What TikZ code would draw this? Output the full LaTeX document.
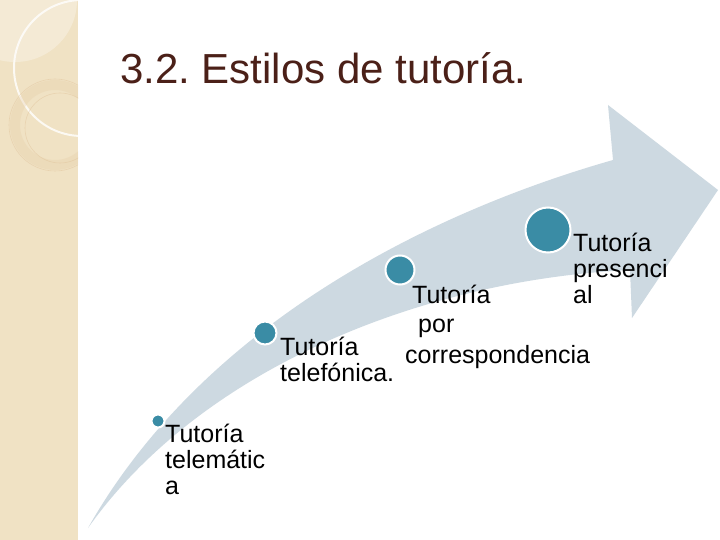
\documentclass[tikz,border=0pt]{standalone}
\usepackage{fontspec}
\setmainfont{Liberation Sans}
\definecolor{beige}{RGB}{240,226,196}
\definecolor{band}{RGB}{205,217,225}
\definecolor{dot}{RGB}{58,140,165}
\definecolor{titlec}{RGB}{75,32,24}
\tikzset{lbl/.style={anchor=north west,inner sep=0,font=\fontsize{25}{26}\selectfont,align=left},
 dotc/.style={circle,fill=dot,draw=white,line width=2pt,inner sep=0}}
\begin{document}
\frenchspacing
\begin{tikzpicture}[x=1pt,y=-1pt]
\useasboundingbox (0,0) rectangle (720,540);
\fill[white] (0,0) rectangle (720,540);
\begin{scope}
\clip (0,0) rectangle (78,540);
\fill[beige] (0,0) rectangle (78,540);
\fill[white,opacity=0.3] (15,0) circle (62);
\draw[white,opacity=0.8,line width=2pt] (82,68) circle (68);
\draw[beige!80!brown,line width=10pt,opacity=0.35] (55,125) circle (40);
\draw[beige!70!brown,line width=0.6pt,opacity=0.5] (55,125) circle (46);
\draw[beige!70!brown,line width=0.6pt,opacity=0.5] (60,128) circle (35);
\end{scope}
\node[anchor=west,inner sep=0,text=titlec,font=\fontsize{42}{44}\selectfont] (title) at (120,68) {3.2. Estilos de tutoría.};
\fill[band] (88,528) .. controls (200,330) and (420,215) .. (613,160) -- (608,105) -- (718,190) -- (632,318) -- (630,270)
  .. controls (420,280) and (200,370) .. cycle;
\node[dotc,minimum size=13pt] (d1) at (158,421) {};
\node[dotc,minimum size=23pt] (d2) at (265,333) {};
\node[dotc,minimum size=29pt] (d3) at (400,270) {};
\node[dotc,minimum size=45pt] (d4) at (548,230) {};
\node[lbl] (t1) at (165,424) {Tutoría\\telemátic\\a};
\node[lbl] (t2) at (280,337) {Tutoría\\telefónica.};
\node[lbl] (t3a) at (412,285) {Tutoría};
\node[lbl] (t3b) at (418,319) {por};
\node[lbl] (t3c) at (405,345) {correspondencia};
\node[lbl] (t4) at (573,233) {Tutoría\\presenci\\al};
\end{tikzpicture}
\end{document}
